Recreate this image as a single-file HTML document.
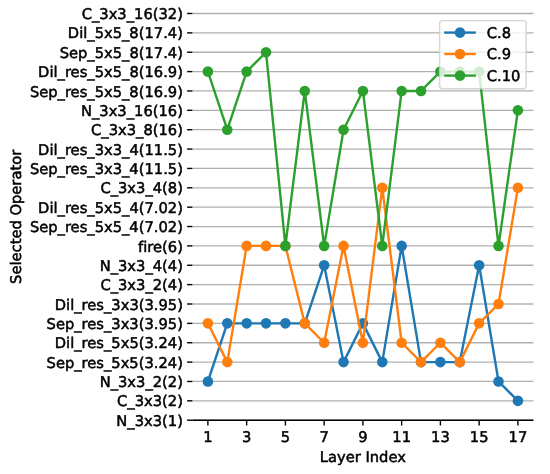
<!DOCTYPE html>
<html><head><meta charset="utf-8"><style>
html,body{margin:0;padding:0;background:#fff;}
svg{display:block;}
text{stroke:#000;stroke-width:0.5px;text-rendering:geometricPrecision;font-variant-ligatures:none;font-feature-settings:'liga' 0,'kern' 1;}
</style></head><body>
<svg width="550" height="474" viewBox="0 0 550 474">
<rect width="550" height="474" fill="#fff"/>
<g stroke="#b0b0b0" stroke-width="1.3" stroke-linecap="butt">
<line x1="192.40" y1="420.20" x2="533.40" y2="420.20"/>
<line x1="192.40" y1="400.83" x2="533.40" y2="400.83"/>
<line x1="192.40" y1="381.47" x2="533.40" y2="381.47"/>
<line x1="192.40" y1="362.10" x2="533.40" y2="362.10"/>
<line x1="192.40" y1="342.73" x2="533.40" y2="342.73"/>
<line x1="192.40" y1="323.37" x2="533.40" y2="323.37"/>
<line x1="192.40" y1="304.00" x2="533.40" y2="304.00"/>
<line x1="192.40" y1="284.63" x2="533.40" y2="284.63"/>
<line x1="192.40" y1="265.27" x2="533.40" y2="265.27"/>
<line x1="192.40" y1="245.90" x2="533.40" y2="245.90"/>
<line x1="192.40" y1="226.53" x2="533.40" y2="226.53"/>
<line x1="192.40" y1="207.17" x2="533.40" y2="207.17"/>
<line x1="192.40" y1="187.80" x2="533.40" y2="187.80"/>
<line x1="192.40" y1="168.43" x2="533.40" y2="168.43"/>
<line x1="192.40" y1="149.07" x2="533.40" y2="149.07"/>
<line x1="192.40" y1="129.70" x2="533.40" y2="129.70"/>
<line x1="192.40" y1="110.33" x2="533.40" y2="110.33"/>
<line x1="192.40" y1="90.97" x2="533.40" y2="90.97"/>
<line x1="192.40" y1="71.60" x2="533.40" y2="71.60"/>
<line x1="192.40" y1="52.23" x2="533.40" y2="52.23"/>
<line x1="192.40" y1="32.87" x2="533.40" y2="32.87"/>
<line x1="192.40" y1="13.50" x2="533.40" y2="13.50"/>
</g>
<polyline points="207.90,381.47 227.28,323.37 246.65,323.37 266.02,323.37 285.40,323.37 304.77,323.37 324.15,265.27 343.52,362.10 362.90,323.37 382.27,362.10 401.65,245.90 421.02,362.10 440.40,362.10 459.77,362.10 479.15,265.27 498.52,381.47 517.90,400.83" fill="none" stroke="#1f77b4" stroke-width="2.4" stroke-linecap="square" stroke-linejoin="round"/>
<g fill="#1f77b4">
<circle cx="207.90" cy="381.47" r="5.3"/>
<circle cx="227.28" cy="323.37" r="5.3"/>
<circle cx="246.65" cy="323.37" r="5.3"/>
<circle cx="266.02" cy="323.37" r="5.3"/>
<circle cx="285.40" cy="323.37" r="5.3"/>
<circle cx="304.77" cy="323.37" r="5.3"/>
<circle cx="324.15" cy="265.27" r="5.3"/>
<circle cx="343.52" cy="362.10" r="5.3"/>
<circle cx="362.90" cy="323.37" r="5.3"/>
<circle cx="382.27" cy="362.10" r="5.3"/>
<circle cx="401.65" cy="245.90" r="5.3"/>
<circle cx="421.02" cy="362.10" r="5.3"/>
<circle cx="440.40" cy="362.10" r="5.3"/>
<circle cx="459.77" cy="362.10" r="5.3"/>
<circle cx="479.15" cy="265.27" r="5.3"/>
<circle cx="498.52" cy="381.47" r="5.3"/>
<circle cx="517.90" cy="400.83" r="5.3"/>
</g>
<polyline points="207.90,323.37 227.28,362.10 246.65,245.90 266.02,245.90 285.40,245.90 304.77,323.37 324.15,342.73 343.52,245.90 362.90,342.73 382.27,187.80 401.65,342.73 421.02,362.10 440.40,342.73 459.77,362.10 479.15,323.37 498.52,304.00 517.90,187.80" fill="none" stroke="#ff7f0e" stroke-width="2.4" stroke-linecap="square" stroke-linejoin="round"/>
<g fill="#ff7f0e">
<circle cx="207.90" cy="323.37" r="5.3"/>
<circle cx="227.28" cy="362.10" r="5.3"/>
<circle cx="246.65" cy="245.90" r="5.3"/>
<circle cx="266.02" cy="245.90" r="5.3"/>
<circle cx="285.40" cy="245.90" r="5.3"/>
<circle cx="304.77" cy="323.37" r="5.3"/>
<circle cx="324.15" cy="342.73" r="5.3"/>
<circle cx="343.52" cy="245.90" r="5.3"/>
<circle cx="362.90" cy="342.73" r="5.3"/>
<circle cx="382.27" cy="187.80" r="5.3"/>
<circle cx="401.65" cy="342.73" r="5.3"/>
<circle cx="421.02" cy="362.10" r="5.3"/>
<circle cx="440.40" cy="342.73" r="5.3"/>
<circle cx="459.77" cy="362.10" r="5.3"/>
<circle cx="479.15" cy="323.37" r="5.3"/>
<circle cx="498.52" cy="304.00" r="5.3"/>
<circle cx="517.90" cy="187.80" r="5.3"/>
</g>
<polyline points="207.90,71.60 227.28,129.70 246.65,71.60 266.02,52.23 285.40,245.90 304.77,90.97 324.15,245.90 343.52,129.70 362.90,90.97 382.27,245.90 401.65,90.97 421.02,90.97 440.40,71.60 459.77,71.60 479.15,71.60 498.52,245.90 517.90,110.33" fill="none" stroke="#2ca02c" stroke-width="2.4" stroke-linecap="square" stroke-linejoin="round"/>
<g fill="#2ca02c">
<circle cx="207.90" cy="71.60" r="5.3"/>
<circle cx="227.28" cy="129.70" r="5.3"/>
<circle cx="246.65" cy="71.60" r="5.3"/>
<circle cx="266.02" cy="52.23" r="5.3"/>
<circle cx="285.40" cy="245.90" r="5.3"/>
<circle cx="304.77" cy="90.97" r="5.3"/>
<circle cx="324.15" cy="245.90" r="5.3"/>
<circle cx="343.52" cy="129.70" r="5.3"/>
<circle cx="362.90" cy="90.97" r="5.3"/>
<circle cx="382.27" cy="245.90" r="5.3"/>
<circle cx="401.65" cy="90.97" r="5.3"/>
<circle cx="421.02" cy="90.97" r="5.3"/>
<circle cx="440.40" cy="71.60" r="5.3"/>
<circle cx="459.77" cy="71.60" r="5.3"/>
<circle cx="479.15" cy="71.60" r="5.3"/>
<circle cx="498.52" cy="245.90" r="5.3"/>
<circle cx="517.90" cy="110.33" r="5.3"/>
</g>
<g stroke="#000" stroke-width="1.4">
<line x1="192.40" y1="420.20" x2="533.40" y2="420.20" stroke-linecap="butt" stroke-width="1.6"/>
<line x1="187.10" y1="420.20" x2="192.40" y2="420.20"/>
<line x1="187.10" y1="400.83" x2="192.40" y2="400.83"/>
<line x1="187.10" y1="381.47" x2="192.40" y2="381.47"/>
<line x1="187.10" y1="362.10" x2="192.40" y2="362.10"/>
<line x1="187.10" y1="342.73" x2="192.40" y2="342.73"/>
<line x1="187.10" y1="323.37" x2="192.40" y2="323.37"/>
<line x1="187.10" y1="304.00" x2="192.40" y2="304.00"/>
<line x1="187.10" y1="284.63" x2="192.40" y2="284.63"/>
<line x1="187.10" y1="265.27" x2="192.40" y2="265.27"/>
<line x1="187.10" y1="245.90" x2="192.40" y2="245.90"/>
<line x1="187.10" y1="226.53" x2="192.40" y2="226.53"/>
<line x1="187.10" y1="207.17" x2="192.40" y2="207.17"/>
<line x1="187.10" y1="187.80" x2="192.40" y2="187.80"/>
<line x1="187.10" y1="168.43" x2="192.40" y2="168.43"/>
<line x1="187.10" y1="149.07" x2="192.40" y2="149.07"/>
<line x1="187.10" y1="129.70" x2="192.40" y2="129.70"/>
<line x1="187.10" y1="110.33" x2="192.40" y2="110.33"/>
<line x1="187.10" y1="90.97" x2="192.40" y2="90.97"/>
<line x1="187.10" y1="71.60" x2="192.40" y2="71.60"/>
<line x1="187.10" y1="52.23" x2="192.40" y2="52.23"/>
<line x1="187.10" y1="32.87" x2="192.40" y2="32.87"/>
<line x1="187.10" y1="13.50" x2="192.40" y2="13.50"/>
<line x1="207.90" y1="420.20" x2="207.90" y2="425.50"/>
<line x1="246.65" y1="420.20" x2="246.65" y2="425.50"/>
<line x1="285.40" y1="420.20" x2="285.40" y2="425.50"/>
<line x1="324.15" y1="420.20" x2="324.15" y2="425.50"/>
<line x1="362.90" y1="420.20" x2="362.90" y2="425.50"/>
<line x1="401.65" y1="420.20" x2="401.65" y2="425.50"/>
<line x1="440.40" y1="420.20" x2="440.40" y2="425.50"/>
<line x1="479.15" y1="420.20" x2="479.15" y2="425.50"/>
<line x1="517.90" y1="420.20" x2="517.90" y2="425.50"/>
</g>
<g font-family="DejaVu Sans, sans-serif" font-size="14.7px" fill="#000">
<text x="182.90" y="425.80" text-anchor="end">N_3x3(1)</text>
<text x="182.90" y="406.43" text-anchor="end">C_3x3(2)</text>
<text x="182.90" y="387.07" text-anchor="end">N_3x3_2(2)</text>
<text x="182.90" y="367.70" text-anchor="end">Sep_res_5x5(3.24)</text>
<text x="182.90" y="348.33" text-anchor="end">Dil_res_5x5(3.24)</text>
<text x="182.90" y="328.97" text-anchor="end">Sep_res_3x3(3.95)</text>
<text x="182.90" y="309.60" text-anchor="end">Dil_res_3x3(3.95)</text>
<text x="182.90" y="290.23" text-anchor="end">C_3x3_2(4)</text>
<text x="182.90" y="270.87" text-anchor="end">N_3x3_4(4)</text>
<text x="182.90" y="251.50" text-anchor="end">fire(6)</text>
<text x="182.90" y="232.13" text-anchor="end">Sep_res_5x5_4(7.02)</text>
<text x="182.90" y="212.77" text-anchor="end">Dil_res_5x5_4(7.02)</text>
<text x="182.90" y="193.40" text-anchor="end">C_3x3_4(8)</text>
<text x="182.90" y="174.03" text-anchor="end">Sep_res_3x3_4(11.5)</text>
<text x="182.90" y="154.67" text-anchor="end">Dil_res_3x3_4(11.5)</text>
<text x="182.90" y="135.30" text-anchor="end">C_3x3_8(16)</text>
<text x="182.90" y="115.93" text-anchor="end">N_3x3_16(16)</text>
<text x="182.90" y="96.57" text-anchor="end">Sep_res_5x5_8(16.9)</text>
<text x="182.90" y="77.20" text-anchor="end">Dil_res_5x5_8(16.9)</text>
<text x="182.90" y="57.83" text-anchor="end">Sep_5x5_8(17.4)</text>
<text x="182.90" y="38.47" text-anchor="end">Dil_5x5_8(17.4)</text>
<text x="182.90" y="19.10" text-anchor="end">C_3x3_16(32)</text>
<text x="207.90" y="441.80" text-anchor="middle">1</text>
<text x="246.65" y="441.80" text-anchor="middle">3</text>
<text x="285.40" y="441.80" text-anchor="middle">5</text>
<text x="324.15" y="441.80" text-anchor="middle">7</text>
<text x="362.90" y="441.80" text-anchor="middle">9</text>
<text x="401.65" y="441.80" text-anchor="middle">11</text>
<text x="440.40" y="441.80" text-anchor="middle">13</text>
<text x="479.15" y="441.80" text-anchor="middle">15</text>
<text x="517.90" y="441.80" text-anchor="middle">17</text>
<text x="362.90" y="461.60" text-anchor="middle">Layer Index</text>
<text transform="translate(20.90,216.85) rotate(-90)" text-anchor="middle">Selected Operator</text>
</g>
<rect x="439.6" y="20.6" width="86.60000000000002" height="68.1" rx="2.94" fill="#fff" fill-opacity="0.8" stroke="#ccc" stroke-opacity="0.8" stroke-width="1.45"/>
<line x1="444.20" y1="32.60" x2="475.80" y2="32.60" stroke="#1f77b4" stroke-width="2.4"/>
<circle cx="460.00" cy="32.60" r="5.3" fill="#1f77b4"/>
<text x="486.80" y="37.90" font-family="DejaVu Sans, sans-serif" font-size="14.7px">C.8</text>
<line x1="444.20" y1="54.00" x2="475.80" y2="54.00" stroke="#ff7f0e" stroke-width="2.4"/>
<circle cx="460.00" cy="54.00" r="5.3" fill="#ff7f0e"/>
<text x="486.80" y="59.30" font-family="DejaVu Sans, sans-serif" font-size="14.7px">C.9</text>
<line x1="444.20" y1="75.60" x2="475.80" y2="75.60" stroke="#2ca02c" stroke-width="2.4"/>
<circle cx="460.00" cy="75.60" r="5.3" fill="#2ca02c"/>
<text x="486.80" y="80.90" font-family="DejaVu Sans, sans-serif" font-size="14.7px">C.10</text>
</svg>
</body></html>
